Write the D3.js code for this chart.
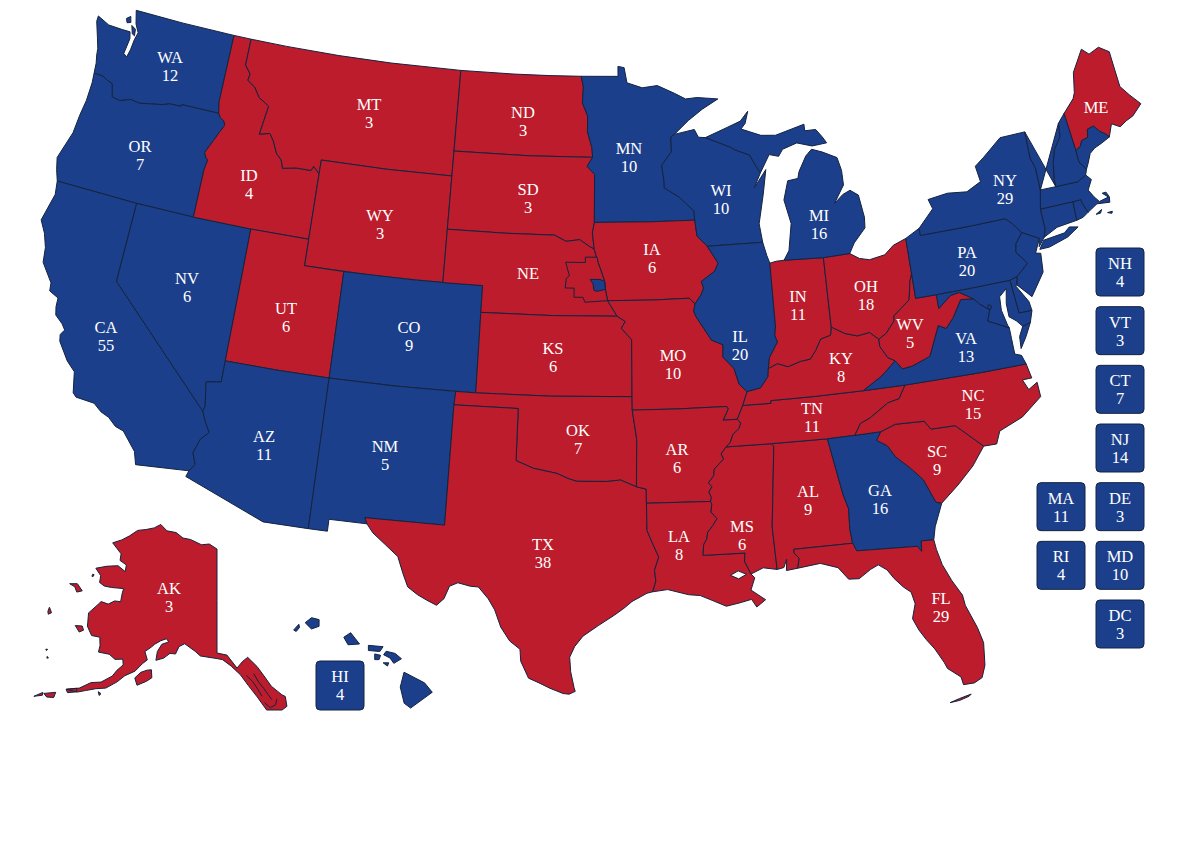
<!DOCTYPE html>
<html>
<head>
<meta charset="utf-8">
<script src="https://cdn.jsdelivr.net/npm/d3@7"></script>
<style>
  body { margin: 0; background: #fff; }
  text { font-family: "Liberation Serif", serif; font-size: 16.5px; fill: #fff; text-anchor: middle; }
  .state { stroke: #14233f; stroke-width: 1; stroke-linejoin: round; }
  .box { stroke: #14233f; stroke-width: 1; }
</style>
</head>
<body>
<div id="map"></div>
<script>
// electoral votes
var stateCodes = ["WA","OR","CA","NV","ID","MT","WY","UT","CO","AZ","NM","ND","SD","NE","KS","OK","TX","MN","IA","MO","AR","LA","WI","IL","MS","AL","TN","KY","IN","OH","MI","GA","FL","SC","NC","VA","WV","PA","NY","ME","AK","HI"];
var stateVotes = [12,7,55,6,4,3,3,6,9,11,5,3,3,null,6,7,38,10,6,10,6,8,10,20,6,9,11,8,11,18,16,16,29,9,15,13,5,20,29,null,3,4];
var blueStates = ["WA","OR","CA","NV","CO","AZ","NM","MN","WI","IL","MI","GA","VA","PA","NY","HI","NH","VT","CT","NJ","DE","MD","DC","MA","RI"];
var boxCodes = ["NH","VT","CT","NJ","DE","MD","DC","MA","RI"];
var boxVotes = [4,3,7,14,3,10,3,11,4];
var boxRows = [0,1,2,3,4,5,6,4,5];
var boxCols = [1,1,1,1,1,1,1,0,0];

// shared borders, lon/lat
var columbia = [[-124.0,46.27],[-123.5,46.26],[-123.2,46.15],[-122.9,46.08],[-122.8,45.85],[-122.7,45.6],[-122.25,45.55],[-121.7,45.7],[-121.2,45.65],[-120.65,45.73],[-120.0,45.82],[-119.6,45.92],[-119.0,45.93],[-118.98,46.0],[-116.92,46.0]];
var snakeOR = [[-116.92,46.0],[-116.78,45.85],[-116.55,45.75],[-116.47,45.6],[-116.67,45.3],[-116.85,45.0],[-117.2,44.45],[-117.05,44.25],[-116.95,44.2],[-117.03,43.83],[-117.03,42.0]];
var idMt = [[-116.05,49.0],[-116.05,48.0],[-115.7,47.7],[-115.75,47.45],[-115.3,47.25],[-114.95,46.9],[-114.35,46.65],[-114.45,46.1],[-114.55,45.55],[-114.0,45.65],[-113.75,45.4],[-113.45,44.95],[-113.15,44.75],[-113.0,44.45],[-112.3,44.55],[-111.5,44.55],[-111.4,44.72],[-111.05,44.48]];
var coloradoCA = [[-114.72,32.72],[-114.5,33.0],[-114.7,33.4],[-114.5,33.95],[-114.15,34.27],[-114.4,34.6],[-114.63,35.0]];
var coloradoNV = [[-114.63,35.0],[-114.57,35.2],[-114.75,36.1],[-114.4,36.15],[-114.05,36.2]];
var redRiverN = [[-97.23,49.0],[-97.1,48.6],[-97.15,48.0],[-96.85,47.5],[-96.85,46.9],[-96.6,46.3],[-96.56,45.94]];
var mnSd = [[-96.56,45.94],[-96.85,45.6],[-96.45,45.3],[-96.45,43.5]];
var missouriSdNe = [[-96.45,42.5],[-96.7,42.6],[-97.2,42.85],[-97.9,42.78],[-98.5,43.0]];
var missouriIa = [[-96.45,42.5],[-96.25,42.0],[-96.1,41.7],[-95.92,41.3],[-95.88,41.0],[-95.77,40.58]];
var missouriKs = [[-95.3,40.0],[-94.9,39.8],[-95.1,39.55],[-94.6,39.12]];
var missMnWi = [[-92.75,44.75],[-92.0,44.4],[-91.25,43.85],[-91.22,43.5]];
var missIaWi = [[-91.22,43.5],[-91.15,42.9],[-90.65,42.5]];
var missIaIl = [[-90.65,42.5],[-90.15,41.85],[-90.35,41.55],[-91.05,41.2],[-90.95,40.95],[-91.1,40.7],[-91.42,40.38]];
var missMoIl = [[-91.42,40.38],[-91.5,40.1],[-91.4,39.9],[-91.05,39.45],[-90.7,39.0],[-90.15,38.8],[-90.2,38.35],[-89.7,37.9],[-89.5,37.3],[-89.15,37.0]];
var missArTn = [[-89.7,36.0],[-89.55,35.85],[-89.65,35.65],[-89.95,35.45],[-90.1,35.15],[-90.3,35.0]];
var missArMs = [[-90.3,35.0],[-90.55,34.75],[-90.45,34.55],[-90.65,34.4],[-90.9,34.2],[-90.95,33.95],[-91.2,33.7],[-91.05,33.55],[-91.2,33.35],[-91.1,33.15],[-91.15,33.0]];
var missLaMs = [[-91.15,33.0],[-91.1,32.9],[-91.15,32.6],[-90.9,32.35],[-91.1,32.1],[-91.35,31.85],[-91.4,31.6],[-91.55,31.4],[-91.6,31.0]];
var ohioIl = [[-89.15,37.0],[-88.5,37.1],[-88.1,37.5],[-88.05,37.8]];
var ohioIn = [[-88.05,37.8],[-87.6,37.95],[-87.1,37.8],[-86.5,37.95],[-86.0,38.0],[-85.7,38.3],[-85.4,38.7],[-84.9,38.8],[-84.82,39.1]];
var ohioOh = [[-84.82,39.1],[-84.2,38.8],[-83.6,38.65],[-83.0,38.72],[-82.6,38.42]];
var ohioWv = [[-82.6,38.42],[-82.2,38.6],[-81.75,39.0],[-81.7,39.2],[-80.85,39.7],[-80.65,40.4],[-80.52,40.64]];
var wabash = [[-88.05,37.8],[-87.95,38.2],[-87.5,38.75],[-87.6,39.0],[-87.53,39.35],[-87.53,41.7]];
var savannah = [[-83.11,35.0],[-83.35,34.7],[-82.9,34.45],[-82.6,34.0],[-82.0,33.5],[-81.5,33.0],[-81.1,32.1],[-80.85,32.03]];
var carolinas = [[-83.11,35.0],[-82.4,35.2],[-81.05,35.15],[-80.8,34.82],[-79.67,34.8],[-78.55,33.86]];
var tnNc = [[-84.32,34.99],[-84.0,35.4],[-83.5,35.57],[-82.95,35.85],[-82.6,36.03],[-82.05,36.12],[-81.68,36.59]];
var redRiverS = [[-100.0,34.56],[-99.2,34.3],[-98.1,34.13],[-97.6,33.95],[-97.2,33.85],[-96.6,33.85],[-95.8,33.85],[-95.2,33.9],[-94.48,33.64]];
var sabine = [[-94.04,33.02],[-94.04,32.0],[-93.8,31.5],[-93.55,31.0],[-93.75,30.5],[-93.7,30.1],[-93.85,29.7]];
var potomacWv = [[-79.48,39.2],[-78.8,39.6],[-78.35,39.65],[-77.72,39.32]];
var potomacVa = [[-77.72,39.32],[-77.5,39.1],[-77.05,38.8],[-77.25,38.4],[-77.0,38.3],[-76.3,38.0]];
var vaWv = [[-77.72,39.32],[-78.35,39.38],[-78.87,38.77],[-79.3,38.42],[-79.65,38.58],[-80.3,37.5],[-81.2,37.25],[-81.68,37.2],[-81.97,37.54]];
var kyWv = [[-82.6,38.42],[-82.6,38.15],[-82.3,37.7],[-81.97,37.54]];
var kyVa = [[-81.97,37.54],[-82.7,37.05],[-83.67,36.6]];
var nyPa = [[-75.35,42.0],[-75.05,41.75],[-74.7,41.36]];
var delaware = [[-74.7,41.36],[-75.1,41.0],[-75.2,40.7],[-74.75,40.2],[-75.4,39.8]];
var vtNh = [[-71.5,45.0],[-71.6,44.5],[-72.05,44.1],[-72.3,43.6],[-72.45,43.0],[-72.46,42.73]];
var vtNy = [[-73.27,42.75],[-73.25,43.6],[-73.4,44.0],[-73.35,45.0]];
var meNh = [[-71.08,45.3],[-70.98,43.85],[-70.98,43.4],[-70.7,43.07]];
var meSplit = [[-70.98,43.85],[-70.7,43.95],[-70.55,44.15],[-70.2,44.2],[-70.1,44.5],[-69.75,44.55],[-69.5,44.3],[-69.25,44.15],[-69.1,44.0]];
var wiMi = [[-87.6,45.1],[-87.8,45.35],[-88.1,45.8],[-88.85,46.03],[-89.1,46.15],[-90.42,46.57]];
var wiMn = [[-92.1,46.75],[-92.3,46.65],[-92.3,46.1],[-92.85,45.6],[-92.75,45.0],[-92.75,44.75]];
function rev(a) { return a.slice().reverse(); }

// state outlines, lon/lat
var WA = [[[-124.0,46.27],[-124.05,46.65],[-124.15,46.95],[-124.2,47.2],[-124.4,47.6],[-124.7,48.17],[-124.7,48.38],[-124.0,48.17],[-123.2,48.15],[-122.75,48.15],[-122.65,47.9],[-122.75,47.3],[-122.55,47.2],[-122.45,47.5],[-122.4,47.9],[-122.3,48.2],[-122.55,48.5],[-122.75,49.0],[-120,49],[-117.04,49],[-117.04,46.42],[-116.92,46.0]].concat(rev(columbia)),
          [[-123.15,48.6],[-122.95,48.72],[-122.85,48.5],[-123.05,48.45]],[[-122.75,48.4],[-122.5,48.3],[-122.45,48.05],[-122.6,48.1]]];
var OR = [columbia.concat(snakeOR.slice(1),[[-120,42],[-124.2,42],[-124.4,42.4],[-124.56,42.84],[-124.15,43.9],[-124.08,44.6],[-123.97,45.2],[-123.95,45.9]])];
var CA = [[[-124.2,42],[-124.1,41.5],[-124.4,40.44],[-124.05,40.0],[-123.8,39.5],[-123.7,38.95],[-123.05,38.3],[-123.0,38.0],[-122.52,37.83],[-122.5,37.5],[-122.4,37.2],[-122.0,36.95],[-121.8,36.75],[-121.95,36.55],[-121.88,36.3],[-121.3,35.67],[-120.85,35.35],[-120.65,34.58],[-120.47,34.45],[-119.6,34.4],[-119.2,34.15],[-118.8,34.02],[-118.4,33.75],[-118.0,33.65],[-117.3,33.0],[-117.12,32.53]].concat(coloradoCA,[[-120,39],[-120,42]])];
var NV = [[[-120,42],[-117.03,42],[-114.04,42],[-114.05,36.2]].concat(rev(coloradoNV),[[-120,39]])];
var ID = [[[-117.04,49],[-116.05,49]].concat(idMt.slice(1),[[-111.05,42],[-114.04,42]],rev(snakeOR),[[-117.04,46.42]])];
var MT = [[[-116.05,49],[-114,49],[-111,49],[-108,49],[-104.05,49],[-104.05,45],[-107.5,45],[-111.05,45]].concat(rev(idMt).slice(0,-1))];
var WY = [[[-111.05,45],[-107.5,45],[-104.05,45],[-104.05,41],[-107.5,41],[-111.05,41]]];
var UT = [[[-114.04,42],[-111.05,42],[-111.05,41],[-109.05,41],[-109.05,37],[-111.5,37],[-114.05,37]]];
var CO = [[[-109.05,41],[-105.5,41],[-102.05,41],[-102.05,37],[-105.5,37],[-109.05,37]]];
var AZ = [[[-114.05,37],[-111.5,37],[-109.05,37],[-109.05,31.33],[-111.07,31.33],[-114.81,32.49]].concat(coloradoCA,coloradoNV.slice(1))];
var NM = [[[-109.05,37],[-106,37],[-103,37],[-103.04,36.5],[-103.06,32],[-106.62,32],[-106.5,31.78],[-108.2,31.78],[-108.2,31.33],[-109.05,31.33]]];
var ND = [[[-104.05,49],[-101,49],[-99,49]].concat(redRiverN,[[-100,45.94],[-104.05,45.94]])];
var SD = [[[-104.05,45.94],[-100,45.94]].concat(mnSd,[[-96.55,43.1]],missouriSdNe,[[-101,43],[-104.05,43]])];
var NE = [[[-104.05,43],[-101,43]].concat(rev(missouriSdNe),missouriIa,[[-95.3,40],[-98.5,40],[-102.05,40],[-102.05,41],[-104.05,41]])];
var KS = [[[-102.05,40],[-98.5,40]].concat(missouriKs,[[-94.62,37],[-98.5,37],[-102.05,37]])];
var OK = [[[-103,37],[-102.05,37],[-98.5,37],[-94.62,37],[-94.62,36.5],[-94.43,35.4]].concat(rev(redRiverS),[[-100,36.5],[-103.04,36.5]])];
var TX = [[[-103.04,36.5],[-100,36.5]].concat(redRiverS,[[-94.04,33.55]],sabine,[[-94.1,29.65],[-94.75,29.35],[-95.1,29.1],[-95.5,28.85],[-96.2,28.45],[-96.85,28.05],[-97.2,27.65],[-97.4,27.25],[-97.35,26.7],[-97.2,26.1],[-97.15,25.96],[-97.4,25.85],[-97.65,25.87],[-98.2,26.06],[-98.7,26.27],[-99.1,26.42],[-99.45,27.05],[-99.5,27.5],[-99.95,27.8],[-100.35,28.3],[-100.65,28.95],[-100.95,29.35],[-101.4,29.77],[-101.75,29.78],[-102.3,29.88],[-102.65,29.73],[-102.85,29.25],[-103.15,28.98],[-103.6,29.15],[-104.0,29.32],[-104.45,29.58],[-104.7,30.05],[-105.0,30.68],[-105.6,31.08],[-106.2,31.47],[-106.5,31.78],[-106.62,32],[-103.06,32]])];
var MN = [[[-97.23,49],[-95.15,49],[-95.15,49.38],[-94.8,49.33],[-94.65,48.75],[-93.8,48.55],[-92.95,48.62],[-92.0,48.3],[-91.4,48.07],[-90.75,48.1],[-89.6,48.0],[-90.5,47.65],[-91.3,47.25]].concat(wiMn,missMnWi.slice(1),[[-93.5,43.5]],rev(mnSd),rev(redRiverN).slice(1))];
var IA = [[[-96.45,43.5],[-93.5,43.5]].concat(missIaWi,missIaIl.slice(1),[[-91.7,40.6],[-93.5,40.58]],rev(missouriIa),[[-96.55,43.1]])];
var MO = [[[-95.77,40.58],[-93.5,40.58],[-91.7,40.6]].concat(missMoIl,[[-89.4,36.5],[-89.7,36.0],[-90.37,36.0],[-90.1,36.4],[-90.15,36.5],[-92.5,36.5],[-94.62,36.5],[-94.62,37]],rev(missouriKs))];
var AR = [[[-94.62,36.5],[-92.5,36.5],[-90.15,36.5],[-90.1,36.4],[-90.37,36.0]].concat(missArTn,missArMs.slice(1),[[-92.5,33.02],[-94.04,33.02],[-94.04,33.55],[-94.48,33.64],[-94.43,35.4]])];
var LA = [[[-94.04,33.02],[-92.5,33.02]].concat(missLaMs,[[-89.75,31],[-89.8,30.7],[-89.55,30.2],[-89.4,30.05],[-89.6,29.6],[-89.0,29.2],[-89.4,28.95],[-89.6,29.25],[-90.1,29.15],[-90.7,29.05],[-91.3,29.3],[-91.8,29.5],[-92.3,29.55],[-93.2,29.77]],rev(sabine))];
var WI = [[[-92.1,46.75],[-91.0,46.9],[-90.8,46.6]].concat(rev(wiMi),[[-88.0,44.55],[-87.3,45.2],[-87.55,44.3],[-87.9,43.2],[-87.8,42.5]],rev(missIaWi),rev(missMnWi).slice(1),rev(wiMn).slice(1))];
var IL = [[[-90.65,42.5],[-87.8,42.5],[-87.65,42.0]].concat(rev(wabash),rev(ohioIl).slice(1),rev(missMoIl).slice(1),rev(missIaIl).slice(1))];
var IN = [wabash.concat([[-87.2,41.75],[-86.8,41.76],[-84.8,41.7]],rev(ohioIn).slice(0,-1))];
var OH = [[[-84.8,41.7],[-83.45,41.73],[-83.0,41.5],[-82.5,41.4],[-81.7,41.5],[-81.2,41.8],[-80.52,41.98]].concat(rev(ohioWv),rev(ohioOh).slice(1))];
var KY = [ohioIl.concat(ohioIn.slice(1),ohioOh.slice(1),kyWv.slice(1),kyVa.slice(1),[[-86,36.6],[-88.07,36.6],[-88.07,36.5],[-89.4,36.5]])];
var TN = [[[-89.4,36.5],[-88.07,36.5],[-88.07,36.6],[-86,36.6],[-83.67,36.6]].concat([[-81.68,36.59]],rev(tnNc),[[-85.6,34.98],[-88.2,35]],rev(missArTn))];
var MS = [[[-90.3,35],[-88.2,35],[-88.1,34.9],[-88.47,31.9],[-88.4,30.3],[-89.0,30.4],[-89.55,30.2],[-89.8,30.7],[-89.75,31]].concat(rev(missLaMs),rev(missArMs).slice(1))];
var AL = [[[-88.2,35],[-85.6,34.98],[-85.18,32.87],[-85.0,32.3],[-85.05,31.55],[-85,31],[-87.6,31],[-87.6,30.85],[-87.4,30.65],[-87.5,30.28],[-88.0,30.23],[-87.95,30.65],[-88.1,30.35],[-88.4,30.3],[-88.47,31.9],[-88.1,34.9]]];
var FL = [[[-87.6,31],[-85,31],[-84.86,30.7],[-82.2,30.57],[-82.05,30.36],[-82.0,30.75],[-81.45,30.72],[-81.4,30.35],[-81.25,29.75],[-80.95,29.1],[-80.6,28.5],[-80.55,28.1],[-80.2,27.2],[-80.05,26.6],[-80.15,25.75],[-80.35,25.3],[-80.7,25.15],[-81.15,25.15],[-81.2,25.45],[-81.7,25.85],[-81.8,26.1],[-82.1,26.65],[-82.4,27.05],[-82.65,27.45],[-82.85,27.9],[-82.65,28.45],[-82.75,28.9],[-83.05,29.13],[-83.4,29.5],[-83.65,29.85],[-84.0,30.08],[-84.35,29.95],[-84.9,29.65],[-85.35,29.68],[-85.75,30.15],[-86.5,30.38],[-87.5,30.28],[-87.4,30.65],[-87.6,30.85]],
          [[-81.8,24.55],[-81.4,24.65],[-80.9,24.75],[-81.0,24.68],[-81.4,24.58]]];
var GA = [[[-85.6,34.98],[-84.32,34.99]].concat(savannah,[[-81.3,31.2],[-81.45,30.72],[-82.0,30.75],[-82.05,30.36],[-82.2,30.57],[-84.86,30.7],[-85,31],[-85.05,31.55],[-85.0,32.3],[-85.18,32.87]])];
var SC = [carolinas.concat([[-79.2,33.2],[-80.0,32.6]],rev(savannah).slice(0,-1))];
var NC = [[[-84.32,34.99]].concat(carolinas,[[-77.95,33.85],[-77.7,34.3],[-76.55,34.65],[-75.53,35.25],[-75.55,35.8],[-76.0,35.6],[-76.2,36.0],[-75.75,36.0],[-75.87,36.55],[-78,36.57]],rev(tnNc).slice(0,-1))];
var VA = [[[-83.67,36.6],[-81.68,36.59],[-78,36.57],[-75.87,36.55],[-76.0,36.9],[-76.3,37.0],[-76.3,37.6]].concat(rev(potomacVa),vaWv.slice(1),kyVa.slice(1,-1)),[[-75.95,37.15],[-75.6,37.55],[-75.25,38.03],[-75.65,37.95],[-75.9,37.6]]];
var WV = [[[-80.52,40.64],[-80.52,39.72],[-79.48,39.72]].concat(potomacWv,vaWv.slice(1),rev(kyWv).slice(1),ohioWv.slice(1,-1))];
var MD = [[[-79.48,39.72],[-77.5,39.72],[-75.79,39.72],[-75.69,38.46],[-75.05,38.45],[-75.25,38.03],[-75.65,37.95],[-75.9,38.2],[-76.2,38.4],[-76.2,38.9],[-76.05,39.45],[-76.45,39.2],[-76.5,38.7],[-76.35,38.1]].concat(rev(potomacVa),rev(potomacWv).slice(1,-1),[[-79.48,39.2]])];
var DE = [[[-75.79,39.72],[-75.4,39.8],[-75.55,39.45],[-75.1,38.8],[-75.05,38.45],[-75.69,38.46]]];
var DC = [[[-77.12,38.93],[-77.04,39.0],[-76.91,38.9],[-77.04,38.79]]];
var PA = [[[-80.52,41.98],[-79.76,42.27],[-79.76,42.0],[-77.5,42.0]].concat(nyPa,delaware.slice(1),[[-75.79,39.72],[-77.5,39.72],[-79.48,39.72],[-80.52,39.72]])];
var NJ = [delaware.concat([[-75.5,39.5],[-74.9,38.95],[-74.1,39.75],[-74.0,40.45],[-74.25,40.5],[-73.9,41.0]])];
var NY = [[[-79.76,42.27],[-79.76,42.0],[-77.5,42.0]].concat(nyPa,[[-73.9,41.0],[-74.0,40.7],[-73.65,41.0],[-73.5,41.3],[-73.5,42.05]],vtNy,[[-74.7,45.0],[-75.8,44.4],[-76.3,44.15],[-76.2,43.55],[-77.0,43.28],[-78.0,43.37],[-79.05,43.27],[-78.9,42.9]]),
          [[-74.0,40.6],[-73.7,40.9],[-72.6,40.98],[-72.3,41.15],[-71.87,41.07],[-72.5,40.8],[-73.5,40.6]]];
var VT = [vtNh.concat(rev(vtNy))];
var NH = [[[-71.5,45.0]].concat(meNh,[[-70.82,42.87],[-71.3,42.7]],rev(vtNh).slice(0,-1))];
var ME = [[[-71.08,45.3],[-70.4,45.75],[-70.25,45.95],[-70.0,46.7],[-69.23,47.46],[-68.9,47.2],[-68.3,47.35],[-67.8,47.07],[-67.8,45.7],[-67.45,45.3],[-67.0,44.85],[-67.6,44.5],[-68.0,44.4],[-68.4,44.25],[-68.8,44.45]].concat(rev(meSplit))];
var ME1 = [meSplit.concat([[-69.6,43.85],[-70.0,43.75],[-70.3,43.6],[-70.55,43.25],[-70.7,43.07],[-70.98,43.4]])];
var MA = [[[-73.5,42.05],[-71.8,42.02],[-71.38,42.02],[-71.38,41.9],[-71.2,41.5],[-70.65,41.72],[-70.0,41.65],[-69.95,41.85],[-70.05,42.05],[-70.25,42.05],[-70.0,41.85],[-70.5,41.78],[-70.7,42.0],[-70.9,42.3],[-70.6,42.65],[-70.82,42.87],[-71.3,42.7],[-72.46,42.73],[-73.27,42.75]],
          [[-70.83,41.35],[-70.5,41.47],[-70.6,41.35]],[[-70.25,41.3],[-70.0,41.3],[-70.05,41.23]]];
var CT = [[[-73.5,42.05],[-71.8,42.02],[-71.85,41.32],[-72.9,41.25],[-73.65,41.0],[-73.5,41.3]]];
var RI = [[[-71.8,42.02],[-71.38,42.02],[-71.38,41.9],[-71.2,41.5],[-71.5,41.37],[-71.85,41.32]]];
var MI = [[[-86.8,41.76],[-84.8,41.7],[-83.45,41.73],[-83.15,42.1],[-82.5,42.6],[-82.45,43.0],[-82.6,43.85],[-83.0,44.07],[-83.4,43.95],[-83.9,43.65],[-83.3,44.3],[-83.3,44.85],[-83.45,45.35],[-84.2,45.63],[-84.75,45.78],[-85.1,45.55],[-85.55,45.0],[-85.65,44.75],[-86.2,44.7],[-86.5,44.0],[-86.25,43.1],[-86.5,42.1]],
          [[-90.42,46.57],[-89.2,46.9],[-88.45,47.1],[-88.0,47.45],[-88.2,47.0],[-88.45,46.8],[-87.4,46.5],[-86.6,46.45],[-85.0,46.75],[-85.0,46.5],[-84.4,46.5],[-84.1,46.2],[-83.9,45.95],[-84.7,45.9],[-85.5,46.08],[-86.3,45.9],[-86.55,45.65],[-87.05,45.75]].concat(wiMi.slice(0,-1))];
var AK = [[[-141,69.65],[-143,70.1],[-145,70.0],[-148,70.4],[-150,70.45],[-152,70.85],[-154.5,70.85],[-156.5,71.3],[-158,70.85],[-160,70.5],[-162,70.2],[-163.5,69.5],[-165,68.9],[-166.8,68.35],[-164,67.7],[-163.7,67.1],[-162,66.9],[-161.8,66.3],[-163.8,66.6],[-164,66.55],[-166,66.2],[-168.1,65.65],[-166.5,65.2],[-166.2,64.6],[-165,64.45],[-163.5,64.55],[-161,64.8],[-161,64.4],[-160.8,63.6],[-162,63.5],[-163,63.05],[-164.5,63.05],[-165,62.6],[-166,61.7],[-165.5,60.9],[-165.3,60.55],[-164,59.9],[-162.5,60.0],[-162,59.3],[-161.9,58.7],[-160,58.8],[-158.8,58.5],[-157.5,58.7],[-157.2,58.2],[-158,57.6],[-158.5,57.0],[-160,56.2],[-161.5,55.9],[-163,55.1],[-164.8,54.6],[-163.1,54.7],[-162,55.05],[-160.5,55.5],[-159,55.8],[-157.5,56.6],[-156.5,57.3],[-155,57.9],[-154,58.7],[-153.3,59.1],[-154,59.8],[-153,60.3],[-152.5,60.6],[-151.5,61.0],[-150.5,61.25],[-150,61.0],[-151.2,60.7],[-151.8,60.0],[-151.8,59.2],[-150.5,59.5],[-149.5,60.0],[-148.5,60.0],[-148,60.7],[-147,61.0],[-146,60.7],[-145,60.4],[-144,60.0],[-141,59.8],[-140,59.7],[-138.5,59.1],[-137,58.3],[-135.8,57.3],[-134.5,56.2],[-133,54.7],[-131,54.7],[-130,55.0],[-130,55.9],[-130.5,56.1],[-132,57.0],[-133,58.0],[-134,58.9],[-135.5,59.8],[-136.5,59.45],[-137.5,58.9],[-139.2,60.1],[-141,60.3],[-141,65]],
          [[-154.8,57.3],[-154.2,56.7],[-152.8,57.2],[-152.0,57.6],[-152.3,58.3],[-153.0,58.2],[-154.0,57.9]],
          [[-171.7,63.4],[-170.3,63.7],[-168.8,63.3],[-169.7,63.0],[-170.5,63.35]],
          [[-167.4,60.2],[-166.2,60.4],[-165.7,60.1],[-166.3,59.8]],
          [[-173.1,60.7],[-172.3,60.35],[-172.7,60.1],[-173,60.3]],
          [[-168.2,65.05],[-167.9,65.05],[-167.95,64.85],[-168.2,64.85]],
          [[-170.4,57.2],[-170.1,57.25],[-170.2,57.1]],[[-169.7,56.65],[-169.4,56.6],[-169.6,56.5]],
          [[-164.9,54.6],[-163.4,55.0],[-163.2,54.7],[-164.5,54.35]],
          [[-167.8,53.5],[-166.2,54.0],[-166.2,53.5],[-167.2,53.3]],
          [[-169,52.9],[-168,53.55],[-167.9,53.3]],[[-160,55.3],[-159.5,55.2],[-159.7,55.0]]];
var akChannels = [[[-136,58.2],[-135,57.6],[-134.3,56.9],[-133.7,56.2]],[[-134.7,58.3],[-134,57.5],[-133.3,56.9],[-132.7,56.3],[-132.2,55.8]],[[-133.4,55.6],[-132.6,55.1],[-131.7,55.3],[-131.4,55.8]]];
var HI = [[[-155.9,20.25],[-155.1,19.85],[-154.8,19.5],[-155.65,18.92],[-155.9,19.1],[-156.05,19.7]],
          [[-156.7,20.9],[-156.6,21.03],[-156.25,20.95],[-156.0,20.75],[-156.3,20.58],[-156.45,20.78]],
          [[-157.3,21.25],[-156.72,21.2],[-156.85,21.02],[-157.3,21.06]],
          [[-157.05,20.93],[-156.82,20.88],[-156.88,20.72],[-157.05,20.72]],
          [[-156.72,20.6],[-156.5,20.6],[-156.55,20.48]],
          [[-158.27,21.55],[-158.0,21.72],[-157.65,21.3],[-158.1,21.27]],
          [[-159.8,22.08],[-159.55,22.27],[-159.25,22.2],[-159.25,21.95],[-159.55,21.85]],
          [[-160.25,21.8],[-160.05,22.02],[-160.02,21.9],[-160.15,21.75]]];
// Nebraska's second district drawn on top of the state
var NE2 = [[[-97.9,42.0],[-96.9,42.0],[-96.9,42.2],[-96.3,42.2],[-96.25,42.0],[-96.1,41.7],[-95.92,41.3],[-95.88,41.0],[-95.77,40.58],[-96.9,40.52],[-97.0,40.7],[-97.45,40.7],[-97.45,41.04],[-97.9,41.04],[-97.85,41.4],[-97.7,41.5]]];
var NE2core = [[[-96.65,41.37],[-96.15,41.37],[-95.92,41.3],[-95.88,41.0],[-96.3,40.93],[-96.45,40.96],[-96.5,41.2]]];
var pontchartrain = [[[-90.45,30.2],[-90.1,30.35],[-89.75,30.2],[-90.1,30.05]]];

var svgWidth = 1200;
var svgHeight = 860;
var blue = "#1c3f8c";
var red = "#bc1c2b";

var svg = d3.select("#map")
  .append("svg")
  .attr("width", svgWidth)
  .attr("height", svgHeight);

// one projection for the lower 48, one each for the two insets
var mainland = d3.geoConicEqualArea()
  .parallels([29.5, 45.5])
  .rotate([96, 0])
  .center([0, 38])
  .scale(1525)
  .translate([603, 370]);

var alaska = d3.geoConicEqualArea()
  .parallels([55, 65])
  .rotate([141, 0])
  .center([0, 60.3])
  .scale(638)
  .translate([217, 653])
  .clipExtent([[31, 0], [svgWidth, 710]]);

var hawaii = d3.geoConicEqualArea()
  .parallels([8, 18])
  .rotate([157, 0])
  .center([0, 20])
  .scale(1550)
  .translate([376, 679]);

var mainPath = d3.geoPath(mainland);
var alaskaPath = d3.geoPath(alaska);
var hawaiiPath = d3.geoPath(hawaii);

// d3 wants rings wound so the small side is inside
function toFeature(rings) {
  return {
    type: "MultiPolygon",
    coordinates: rings.map(function(r) {
      var ring = r.concat([r[0]]);
      if (d3.geoArea({ type: "Polygon", coordinates: [ring] }) > 2 * Math.PI) ring.reverse();
      return [ring];
    })
  };
}

var shapes = [
  ["WA",WA],["OR",OR],["CA",CA],["NV",NV],["ID",ID],["MT",MT],["WY",WY],["UT",UT],["CO",CO],["AZ",AZ],["NM",NM],
  ["ND",ND],["SD",SD],["NE",NE],["KS",KS],["OK",OK],["TX",TX],["MN",MN],["IA",IA],["MO",MO],["AR",AR],["LA",LA],
  ["WI",WI],["IL",IL],["MS",MS],["AL",AL],["TN",TN],["KY",KY],["IN",IN],["OH",OH],["MI",MI],["GA",GA],["FL",FL],
  ["SC",SC],["NC",NC],["VA",VA],["WV",WV],["PA",PA],["NY",NY],["ME",ME],["MA",MA],["CT",CT],["RI",RI],["NH",NH],
  ["VT",VT],["NJ",NJ],["DE",DE],["MD",MD],["DC",DC]
];

function fillOf(code) { return blueStates.indexOf(code) >= 0 ? blue : red; }

svg.append("g").selectAll("path")
  .data(shapes)
  .enter()
  .append("path")
  .attr("class", "state")
  .attr("fill", function(d) { return fillOf(d[0]); })
  .attr("d", function(d) { return mainPath(toFeature(d[1])); });

// blue half of Maine, Nebraska districts, the lake
svg.append("path").attr("class", "state").attr("fill", blue).attr("d", mainPath(toFeature(ME1)));
svg.append("path").attr("class", "state").attr("fill", red).attr("d", mainPath(toFeature(NE2)));
svg.append("path").attr("class", "state").attr("fill", blue).attr("d", mainPath(toFeature(NE2core)));
svg.append("path").attr("class", "state").attr("fill", "#fff").attr("d", mainPath(toFeature(pontchartrain)));

svg.append("path").attr("class", "state").attr("fill", red).attr("d", alaskaPath(toFeature(AK)));
svg.append("path").attr("class", "state").attr("fill", "none").attr("d", alaskaPath({ type: "MultiLineString", coordinates: akChannels }));
svg.append("path").attr("class", "state").attr("fill", blue).attr("d", hawaiiPath(toFeature(HI)));

// label centres as placed in the reference
var labelX = {WA:170,OR:140,CA:106,NV:187,ID:249,MT:369,WY:380,UT:286,CO:409,AZ:264,NM:385,ND:523,SD:528,NE:528,KS:553,OK:578,TX:543,MN:629,IA:652,MO:673,AR:677,LA:679,WI:721,IL:740,MS:742,AL:808,TN:812,KY:841,IN:798,OH:866,MI:819,GA:880,FL:941,SC:937,NC:973,VA:966,WV:910,PA:967,NY:1005,ME:1096,AK:169,HI:340};
var labelY = {WA:66,OR:155,CA:336,NV:287,ID:184,MT:113,WY:224,UT:317,CO:336,AZ:445,NM:455,ND:121,SD:198,NE:274,KS:357,OK:439,TX:553,MN:157,IA:258,MO:364,AR:458,LA:545,WI:199,IL:345,MS:535,AL:500,TN:417,KY:367,IN:305,OH:295,MI:224,GA:499,FL:607,SC:460,NC:404,VA:347,WV:333,PA:261,NY:189,ME:108,AK:597,HI:685};

function putLabel(g, code, votes) {
  var t = g.append("text");
  if (votes === null) {
    t.append("tspan").attr("x", 0).attr("dy", "0.33em").text(code);
  } else {
    t.append("tspan").attr("x", 0).attr("y", -3).text(code);
    t.append("tspan").attr("x", 0).attr("y", 15).text(votes);
  }
}

// Hawaii's box sits under the labels
svg.append("rect").attr("class", "box").attr("x", 316).attr("y", 661).attr("width", 48).attr("height", 49).attr("rx", 4).attr("fill", blue);

stateCodes.forEach(function(code, i) {
  var g = svg.append("g").attr("transform", "translate(" + labelX[code] + "," + labelY[code] + ")");
  putLabel(g, code, stateVotes[i]);
});

// call-out boxes for the small eastern states
var rowScale = d3.scalePoint().domain(d3.range(7)).range([272, 624]);
var colScale = d3.scalePoint().domain([0, 1]).range([1061, 1120]);

boxCodes.forEach(function(code, i) {
  var g = svg.append("g").attr("transform", "translate(" + colScale(boxCols[i]) + "," + rowScale(boxRows[i]) + ")");
  g.append("rect").attr("class", "box").attr("x", -24).attr("y", -24).attr("width", 48).attr("height", 48).attr("rx", 4).attr("fill", fillOf(code));
  putLabel(g, code, boxVotes[i]);
});
</script>
</body>
</html>
